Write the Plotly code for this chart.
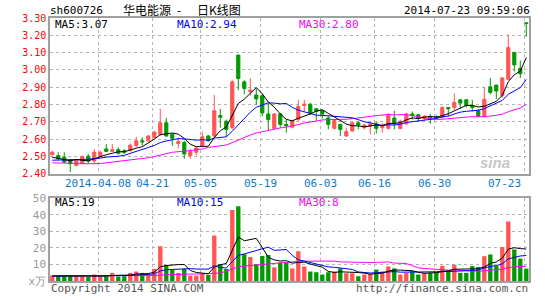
import plotly.graph_objects as go
import pandas as pd

# ---------------- data ----------------
idx = list(range(80))
opens = [2.510,2.505,2.495,2.480,2.448,2.458,2.501,2.473,2.499,2.543,
         2.529,2.539,2.533,2.533,2.562,2.590,2.590,2.609,2.628,2.694,
         2.628,2.575,2.580,2.505,2.524,2.562,2.618,2.618,2.736,2.703,
         2.666,3.086,2.931,2.874,2.855,2.851,2.745,2.662,2.745,2.685,
         2.669,2.713,2.794,2.802,2.775,2.764,2.722,2.662,2.685,2.618,
         2.647,2.694,2.666,2.675,2.688,2.666,2.662,2.722,2.662,2.688,
         2.745,2.741,2.719,2.730,2.730,2.726,2.783,2.783,2.827,2.827,
         2.794,2.764,2.732,2.902,2.912,2.851,2.946,3.101,3.010,3.272]
highs = [2.533,2.524,2.524,2.482,2.480,2.505,2.514,2.543,2.533,2.571,
         2.571,2.552,2.543,2.575,2.613,2.609,2.624,2.647,2.775,2.722,
         2.632,2.609,2.590,2.543,2.561,2.643,2.624,2.855,2.775,2.713,
         2.940,3.086,2.940,2.953,2.893,2.864,2.808,2.751,2.751,2.713,
         2.713,2.827,2.827,2.808,2.779,2.770,2.732,2.713,2.688,2.666,
         2.700,2.703,2.688,2.700,2.700,2.694,2.751,2.764,2.713,2.751,
         2.760,2.745,2.738,2.745,2.738,2.789,2.783,2.864,2.832,2.832,
         2.827,2.775,2.902,2.953,2.915,2.959,3.205,3.105,3.054,3.272]
lows = [2.505,2.480,2.461,2.410,2.442,2.454,2.458,2.458,2.495,2.524,
        2.524,2.510,2.514,2.529,2.552,2.562,2.586,2.605,2.618,2.613,
        2.562,2.548,2.486,2.486,2.505,2.552,2.586,2.609,2.666,2.613,
        2.656,2.883,2.859,2.851,2.798,2.732,2.647,2.656,2.666,2.637,
        2.662,2.703,2.760,2.741,2.707,2.719,2.656,2.656,2.618,2.613,
        2.643,2.656,2.656,2.628,2.632,2.637,2.656,2.656,2.656,2.681,
        2.713,2.700,2.707,2.688,2.719,2.719,2.732,2.764,2.775,2.783,
        2.760,2.726,2.726,2.859,2.832,2.840,2.940,2.991,2.953,3.192]
closes = [2.524,2.486,2.467,2.458,2.476,2.499,2.473,2.524,2.524,2.529,
          2.539,2.518,2.524,2.565,2.590,2.584,2.618,2.641,2.694,2.618,
          2.605,2.586,2.514,2.528,2.548,2.613,2.590,2.764,2.726,2.656,
          2.931,2.950,2.893,2.883,2.832,2.751,2.713,2.745,2.685,2.677,
          2.707,2.789,2.802,2.751,2.760,2.745,2.685,2.707,2.656,2.643,
          2.694,2.681,2.681,2.688,2.662,2.681,2.738,2.688,2.703,2.745,
          2.738,2.719,2.732,2.722,2.722,2.783,2.775,2.813,2.808,2.794,
          2.783,2.732,2.830,2.870,2.878,2.953,3.129,3.029,2.978,3.268]
volumes = [3.3,2.9,2.9,2.9,2.9,2.9,2.4,3.9,2.7,2.7,
           4.9,2.7,2.9,4.9,5.7,4.9,3.9,7.3,21.0,9.6,
           6.9,4.9,7.3,3.3,3.3,4.3,3.7,27.5,10.2,7.3,
           42.9,45.1,16.1,14.5,10.2,15.1,15.7,8.2,11.2,11.2,
           7.6,18.0,8.8,5.7,5.3,3.9,5.3,5.7,7.6,4.7,
           4.7,2.9,3.9,4.3,6.9,5.7,8.8,7.6,3.9,4.9,
           5.9,3.9,4.9,4.9,5.3,9.2,6.3,9.8,4.9,4.9,
           9.0,8.5,15.0,16.0,9.0,20.5,36.0,19.0,13.5,7.5]

# moving-average values before the window is full
ma5_lead = [2.495, 2.490, 2.482, 2.475]
ma10_lead = [2.478, 2.478, 2.479, 2.480, 2.481, 2.482, 2.484, 2.486, 2.490]
ma30_lead = [2.463,2.463,2.461,2.461,2.459,2.459,2.457,2.457,2.459,2.463,
             2.467,2.471,2.474,2.478,2.480,2.484,2.492,2.499,2.508,2.518,
             2.524,2.527,2.529,2.533,2.539,2.543,2.552,2.556,2.562]
vma5_lead = [3.0, 3.0, 3.0, 3.0]
vma10_lead = [3.0, 3.0, 3.0, 3.0, 3.0, 3.0, 3.0, 3.0, 3.0]
vma30_lead = [3.3,3.3,3.2,3.1,3.1,3.0,3.0,3.0,3.0,2.9,
              2.9,2.9,2.9,3.0,3.0,3.1,3.2,3.3,3.6,3.8,
              4.0,4.1,4.2,4.2,4.2,4.3,4.3,4.6,4.8]

price_ticks = [2.40,2.50,2.60,2.70,2.80,2.90,3.00,3.10,3.20,3.30]
vol_ticks = [0,10,20,30,40,50]
vol_ticktext = ["x万","10","20","30","40","50"]
date_pos = [8,17,25,35,45,54,64,79]
date_labels = ["2014-04-08","04-21","05-05","05-19","06-03","06-16","06-30","07-23"]

# ---------------- derived ----------------
def ma(series, n, lead):
    r = pd.Series(series).rolling(n).mean().tolist()
    return lead + r[len(lead):]

ma5 = ma(closes, 5, ma5_lead)
ma10 = ma(closes, 10, ma10_lead)
ma30 = ma(closes, 30, ma30_lead)
vma5 = ma(volumes, 5, vma5_lead)
vma10 = ma(volumes, 10, vma10_lead)
vma30 = ma(volumes, 30, vma30_lead)

RED = "#ff5555"
GREEN = "#009a00"
vcolors = [RED if c > o else GREEN for o, c in zip(opens, closes)]
grid_x = [p - 0.3 for p in date_pos]

MONO = "DejaVu Sans Mono"
fig = go.Figure()
fig.add_trace(go.Candlestick(
    x=idx, open=opens, high=highs, low=lows, close=closes,
    increasing=dict(line=dict(color=RED, width=1), fillcolor=RED),
    decreasing=dict(line=dict(color=GREEN, width=1), fillcolor=GREEN),
    whiskerwidth=0, xaxis="x", yaxis="y", showlegend=False))
for vals, col in [(ma30, "#ff00ff"), (ma10, "#0000ff"), (ma5, "#000000")]:
    fig.add_trace(go.Scatter(x=idx, y=vals, mode="lines", line=dict(color=col, width=1),
                             xaxis="x", yaxis="y", showlegend=False))

fig.add_trace(go.Bar(x=idx, y=volumes, marker=dict(color=vcolors, line=dict(width=0)),
                     width=0.72, xaxis="x2", yaxis="y2", showlegend=False))
for vals, col in [(vma30, "#ff00ff"), (vma10, "#0000ff"), (vma5, "#000000")]:
    fig.add_trace(go.Scatter(x=idx, y=vals, mode="lines", line=dict(color=col, width=1),
                             xaxis="x2", yaxis="y2", showlegend=False))

axis_common = dict(showline=True, linecolor="#a0a0a0", linewidth=1.5, mirror=True,
                   zeroline=False, ticks="")
xr = [-0.38, 79.45]
fig.update_layout(
    width=545, height=300,
    margin=dict(l=50, r=16, t=18, b=14),
    paper_bgcolor="white", plot_bgcolor="white",
    font=dict(family=MONO, size=10),
    boxgap=0.25,
    xaxis=dict(domain=[0, 1], anchor="y", range=xr, tickvals=grid_x, showticklabels=False,
               showgrid=True, gridcolor="#b4b4b4", griddash="dot", gridwidth=1,
               rangeslider=dict(visible=False), **axis_common),
    yaxis=dict(domain=[0.408, 1], anchor="x", range=[2.40, 3.30], tickvals=price_ticks,
               tickformat=".2f", tickfont=dict(color="#ff0000", size=10, family=MONO),
               showgrid=True, gridcolor="#b4b4b4", griddash="dot", gridwidth=1, **axis_common),
    xaxis2=dict(domain=[0, 1], anchor="y2", matches="x", range=xr, tickvals=grid_x,
                showticklabels=False, showgrid=True, gridcolor="#b4b4b4", griddash="dot",
                gridwidth=1, **axis_common),
    yaxis2=dict(domain=[0, 0.3146], anchor="x2", range=[0, 50], tickvals=vol_ticks,
                ticktext=vol_ticktext, tickfont=dict(color="#999999", size=11, family=MONO),
                showgrid=True, gridcolor="#b4b4b4", griddash="dot", gridwidth=1, **axis_common),
    bargap=0.25,
)

def px_x(px):
    return (px - 50) / 479.0

def px_y(py):
    return (286 - py) / 268.0

ann = []
def txt(s, x, y, color, size=10, family=MONO, xanchor="left"):
    ann.append(dict(text=s, x=px_x(x), y=px_y(y), xref="paper", yref="paper",
                    xanchor=xanchor, yanchor="middle", showarrow=False,
                    font=dict(color=color, size=size, family=family)))

CJK = "Noto Sans CJK SC"
txt("sh600726", 48, 10, "#000000", 11)
txt("华电能源", 121, 9.5, "#000000", 12, CJK)
txt("-", 179, 9.5, "#000000", 12, CJK, xanchor="center")
txt("日K线图", 195, 9.5, "#000000", 12, CJK)
txt("2014-07-23 09:59:06", 532, 10, "#000000", 11, xanchor="right")
txt("MA5:3.07", 53, 24.5, "#000000", 11)
txt("MA10:2.94", 175, 24.5, "#0000ff", 11)
txt("MA30:2.80", 297, 24.5, "#ff00ff", 11)
txt("MA5:19", 53, 206, "#000000", 11)
txt("MA10:15", 175, 206, "#0000ff", 11)
txt("MA30:8", 297, 206, "#ff00ff", 11)
txt("Copyright 2014 SINA.COM", 49, 293.5, "#555555", 11)
txt("http://finance.sina.com.cn", 530, 293.5, "#555555", 11, xanchor="right")
ann.append(dict(text="<b><i>sina</i></b>", x=px_x(512), y=px_y(165), xref="paper", yref="paper",
                showarrow=False, font=dict(color="#c8c8c8", size=15, family="Liberation Sans")))

for p, lab in zip(date_pos, date_labels):
    shift = -20 if lab == date_labels[-1] else 0
    ann.append(dict(text=lab, x=p - 0.3, y=px_y(186.5), xref="x", yref="paper",
                    xanchor="center", yanchor="middle", xshift=shift, showarrow=False,
                    font=dict(color="#0b7bc8", size=11, family=MONO)))

fig.update_layout(annotations=ann)
fig.write_html("out.html")
